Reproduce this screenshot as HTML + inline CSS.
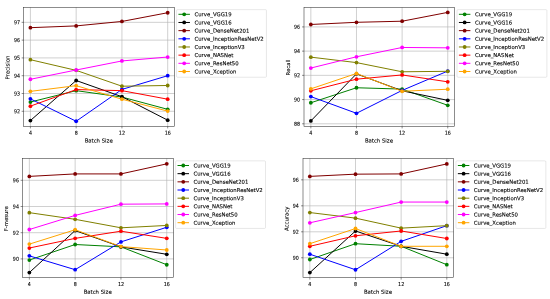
<!DOCTYPE html>
<html><head><meta charset="utf-8"><title>Curves</title>
<style>
html,body{margin:0;padding:0;background:#fff;}
body{width:550px;height:299px;overflow:hidden;}
svg{display:block;}
text{font-family:"DejaVu Sans","Liberation Sans",sans-serif;font-size:5.35px;fill:#000;stroke:#000;stroke-width:0.1px;}
.tk{fill:#000}
</style></head><body>
<svg width="550" height="299" viewBox="0 0 550 299">
<g>
<rect x="0" y="0" width="550" height="299" fill="#ffffff"/>

<g>
<line x1="30.40" y1="7.30" x2="30.40" y2="126.50" stroke="#b0b0b0" stroke-width="0.6"/>
<line x1="76.17" y1="7.30" x2="76.17" y2="126.50" stroke="#b0b0b0" stroke-width="0.6"/>
<line x1="121.93" y1="7.30" x2="121.93" y2="126.50" stroke="#b0b0b0" stroke-width="0.6"/>
<line x1="167.70" y1="7.30" x2="167.70" y2="126.50" stroke="#b0b0b0" stroke-width="0.6"/>
<line x1="23.55" y1="111.29" x2="174.55" y2="111.29" stroke="#b0b0b0" stroke-width="0.6"/>
<line x1="23.55" y1="93.50" x2="174.55" y2="93.50" stroke="#b0b0b0" stroke-width="0.6"/>
<line x1="23.55" y1="75.71" x2="174.55" y2="75.71" stroke="#b0b0b0" stroke-width="0.6"/>
<line x1="23.55" y1="57.92" x2="174.55" y2="57.92" stroke="#b0b0b0" stroke-width="0.6"/>
<line x1="23.55" y1="40.13" x2="174.55" y2="40.13" stroke="#b0b0b0" stroke-width="0.6"/>
<line x1="23.55" y1="22.34" x2="174.55" y2="22.34" stroke="#b0b0b0" stroke-width="0.6"/>
<polyline points="30.40,102.04 76.17,90.65 121.93,97.06 167.70,109.33" fill="none" stroke="#008000" stroke-width="1.0" stroke-linejoin="round"/>
<circle cx="30.40" cy="102.04" r="1.9" fill="#008000"/>
<circle cx="76.17" cy="90.65" r="1.9" fill="#008000"/>
<circle cx="121.93" cy="97.06" r="1.9" fill="#008000"/>
<circle cx="167.70" cy="109.33" r="1.9" fill="#008000"/>
<polyline points="30.40,120.54 76.17,80.51 121.93,96.70 167.70,120.19" fill="none" stroke="#000000" stroke-width="1.0" stroke-linejoin="round"/>
<circle cx="30.40" cy="120.54" r="1.9" fill="#000000"/>
<circle cx="76.17" cy="80.51" r="1.9" fill="#000000"/>
<circle cx="121.93" cy="96.70" r="1.9" fill="#000000"/>
<circle cx="167.70" cy="120.19" r="1.9" fill="#000000"/>
<polyline points="30.40,27.68 76.17,25.90 121.93,21.45 167.70,12.73" fill="none" stroke="#800000" stroke-width="1.0" stroke-linejoin="round"/>
<circle cx="30.40" cy="27.68" r="1.9" fill="#800000"/>
<circle cx="76.17" cy="25.90" r="1.9" fill="#800000"/>
<circle cx="121.93" cy="21.45" r="1.9" fill="#800000"/>
<circle cx="167.70" cy="12.73" r="1.9" fill="#800000"/>
<polyline points="30.40,98.84 76.17,121.25 121.93,89.41 167.70,75.71" fill="none" stroke="#0000ff" stroke-width="1.0" stroke-linejoin="round"/>
<circle cx="30.40" cy="98.84" r="1.9" fill="#0000ff"/>
<circle cx="76.17" cy="121.25" r="1.9" fill="#0000ff"/>
<circle cx="121.93" cy="89.41" r="1.9" fill="#0000ff"/>
<circle cx="167.70" cy="75.71" r="1.9" fill="#0000ff"/>
<polyline points="30.40,59.70 76.17,70.37 121.93,86.21 167.70,85.49" fill="none" stroke="#808000" stroke-width="1.0" stroke-linejoin="round"/>
<circle cx="30.40" cy="59.70" r="1.9" fill="#808000"/>
<circle cx="76.17" cy="70.37" r="1.9" fill="#808000"/>
<circle cx="121.93" cy="86.21" r="1.9" fill="#808000"/>
<circle cx="167.70" cy="85.49" r="1.9" fill="#808000"/>
<polyline points="30.40,106.13 76.17,89.59 121.93,90.65 167.70,99.19" fill="none" stroke="#ff0000" stroke-width="1.0" stroke-linejoin="round"/>
<circle cx="30.40" cy="106.13" r="1.9" fill="#ff0000"/>
<circle cx="76.17" cy="89.59" r="1.9" fill="#ff0000"/>
<circle cx="121.93" cy="90.65" r="1.9" fill="#ff0000"/>
<circle cx="167.70" cy="99.19" r="1.9" fill="#ff0000"/>
<polyline points="30.40,79.27 76.17,70.02 121.93,60.94 167.70,57.03" fill="none" stroke="#ff00ff" stroke-width="1.0" stroke-linejoin="round"/>
<circle cx="30.40" cy="79.27" r="1.9" fill="#ff00ff"/>
<circle cx="76.17" cy="70.02" r="1.9" fill="#ff00ff"/>
<circle cx="121.93" cy="60.94" r="1.9" fill="#ff00ff"/>
<circle cx="167.70" cy="57.03" r="1.9" fill="#ff00ff"/>
<polyline points="30.40,91.37 76.17,85.67 121.93,99.19 167.70,111.11" fill="none" stroke="#ffa500" stroke-width="1.0" stroke-linejoin="round"/>
<circle cx="30.40" cy="91.37" r="1.9" fill="#ffa500"/>
<circle cx="76.17" cy="85.67" r="1.9" fill="#ffa500"/>
<circle cx="121.93" cy="99.19" r="1.9" fill="#ffa500"/>
<circle cx="167.70" cy="111.11" r="1.9" fill="#ffa500"/>
<rect x="23.55" y="7.30" width="151.00" height="119.20" fill="none" stroke="#303030" stroke-width="0.55"/>
<line x1="30.40" y1="126.50" x2="30.40" y2="128.40" stroke="#000" stroke-width="0.45"/>
<text class="tk" transform="translate(30.40,134.85) rotate(0.05) scale(0.9,1)" text-anchor="middle">4</text>
<line x1="76.17" y1="126.50" x2="76.17" y2="128.40" stroke="#000" stroke-width="0.45"/>
<text class="tk" transform="translate(76.17,134.85) rotate(0.05) scale(0.9,1)" text-anchor="middle">8</text>
<line x1="121.93" y1="126.50" x2="121.93" y2="128.40" stroke="#000" stroke-width="0.45"/>
<text class="tk" transform="translate(121.93,134.85) rotate(0.05) scale(0.9,1)" text-anchor="middle">12</text>
<line x1="167.70" y1="126.50" x2="167.70" y2="128.40" stroke="#000" stroke-width="0.45"/>
<text class="tk" transform="translate(167.70,134.85) rotate(0.05) scale(0.9,1)" text-anchor="middle">16</text>
<line x1="21.65" y1="111.29" x2="23.55" y2="111.29" stroke="#000" stroke-width="0.45"/>
<text class="tk" transform="translate(20.05,113.24) rotate(0.05) scale(0.9,1)" text-anchor="end">92</text>
<line x1="21.65" y1="93.50" x2="23.55" y2="93.50" stroke="#000" stroke-width="0.45"/>
<text class="tk" transform="translate(20.05,95.45) rotate(0.05) scale(0.9,1)" text-anchor="end">93</text>
<line x1="21.65" y1="75.71" x2="23.55" y2="75.71" stroke="#000" stroke-width="0.45"/>
<text class="tk" transform="translate(20.05,77.66) rotate(0.05) scale(0.9,1)" text-anchor="end">94</text>
<line x1="21.65" y1="57.92" x2="23.55" y2="57.92" stroke="#000" stroke-width="0.45"/>
<text class="tk" transform="translate(20.05,59.87) rotate(0.05) scale(0.9,1)" text-anchor="end">95</text>
<line x1="21.65" y1="40.13" x2="23.55" y2="40.13" stroke="#000" stroke-width="0.45"/>
<text class="tk" transform="translate(20.05,42.08) rotate(0.05) scale(0.9,1)" text-anchor="end">96</text>
<line x1="21.65" y1="22.34" x2="23.55" y2="22.34" stroke="#000" stroke-width="0.45"/>
<text class="tk" transform="translate(20.05,24.29) rotate(0.05) scale(0.9,1)" text-anchor="end">97</text>
<text transform="translate(98.65,142.50) rotate(0.05)" text-anchor="middle">Batch Size</text>
<text transform="translate(9.45,67.60) rotate(-89.9)" text-anchor="middle">Precision</text>
<rect x="176.55" y="9.65" width="89.90" height="67.60" rx="1" ry="1" fill="#fff" fill-opacity="0.8" stroke="#cccccc" stroke-width="0.45"/>
<line x1="178.45" y1="14.30" x2="189.95" y2="14.30" stroke="#008000" stroke-width="1.0"/>
<circle cx="184.20" cy="14.30" r="1.9" fill="#008000"/>
<text transform="translate(194.45,16.25) rotate(0.05)">Curve_VGG19</text>
<line x1="178.45" y1="22.47" x2="189.95" y2="22.47" stroke="#000000" stroke-width="1.0"/>
<circle cx="184.20" cy="22.47" r="1.9" fill="#000000"/>
<text transform="translate(194.45,24.42) rotate(0.05)">Curve_VGG16</text>
<line x1="178.45" y1="30.64" x2="189.95" y2="30.64" stroke="#800000" stroke-width="1.0"/>
<circle cx="184.20" cy="30.64" r="1.9" fill="#800000"/>
<text transform="translate(194.45,32.59) rotate(0.05)">Curve_DenseNet201</text>
<line x1="178.45" y1="38.81" x2="189.95" y2="38.81" stroke="#0000ff" stroke-width="1.0"/>
<circle cx="184.20" cy="38.81" r="1.9" fill="#0000ff"/>
<text transform="translate(194.45,40.76) rotate(0.05)">Curve_InceptionResNetV2</text>
<line x1="178.45" y1="46.98" x2="189.95" y2="46.98" stroke="#808000" stroke-width="1.0"/>
<circle cx="184.20" cy="46.98" r="1.9" fill="#808000"/>
<text transform="translate(194.45,48.93) rotate(0.05)">Curve_InceptionV3</text>
<line x1="178.45" y1="55.15" x2="189.95" y2="55.15" stroke="#ff0000" stroke-width="1.0"/>
<circle cx="184.20" cy="55.15" r="1.9" fill="#ff0000"/>
<text transform="translate(194.45,57.10) rotate(0.05)">Curve_NASNet</text>
<line x1="178.45" y1="63.32" x2="189.95" y2="63.32" stroke="#ff00ff" stroke-width="1.0"/>
<circle cx="184.20" cy="63.32" r="1.9" fill="#ff00ff"/>
<text transform="translate(194.45,65.27) rotate(0.05)">Curve_ResNet50</text>
<line x1="178.45" y1="71.49" x2="189.95" y2="71.49" stroke="#ffa500" stroke-width="1.0"/>
<circle cx="184.20" cy="71.49" r="1.9" fill="#ffa500"/>
<text transform="translate(194.45,73.44) rotate(0.05)">Curve_Xception</text>
</g>
<g>
<line x1="310.85" y1="7.30" x2="310.85" y2="126.50" stroke="#b0b0b0" stroke-width="0.6"/>
<line x1="356.48" y1="7.30" x2="356.48" y2="126.50" stroke="#b0b0b0" stroke-width="0.6"/>
<line x1="402.12" y1="7.30" x2="402.12" y2="126.50" stroke="#b0b0b0" stroke-width="0.6"/>
<line x1="447.75" y1="7.30" x2="447.75" y2="126.50" stroke="#b0b0b0" stroke-width="0.6"/>
<line x1="304.00" y1="123.79" x2="454.60" y2="123.79" stroke="#b0b0b0" stroke-width="0.6"/>
<line x1="304.00" y1="99.57" x2="454.60" y2="99.57" stroke="#b0b0b0" stroke-width="0.6"/>
<line x1="304.00" y1="75.35" x2="454.60" y2="75.35" stroke="#b0b0b0" stroke-width="0.6"/>
<line x1="304.00" y1="51.13" x2="454.60" y2="51.13" stroke="#b0b0b0" stroke-width="0.6"/>
<line x1="304.00" y1="26.91" x2="454.60" y2="26.91" stroke="#b0b0b0" stroke-width="0.6"/>
<polyline points="310.85,102.77 356.48,87.76 402.12,89.09 447.75,105.31" fill="none" stroke="#008000" stroke-width="1.0" stroke-linejoin="round"/>
<circle cx="310.85" cy="102.77" r="1.9" fill="#008000"/>
<circle cx="356.48" cy="87.76" r="1.9" fill="#008000"/>
<circle cx="402.12" cy="89.09" r="1.9" fill="#008000"/>
<circle cx="447.75" cy="105.31" r="1.9" fill="#008000"/>
<polyline points="310.85,120.92 356.48,73.85 402.12,90.79 447.75,100.35" fill="none" stroke="#000000" stroke-width="1.0" stroke-linejoin="round"/>
<circle cx="310.85" cy="120.92" r="1.9" fill="#000000"/>
<circle cx="356.48" cy="73.85" r="1.9" fill="#000000"/>
<circle cx="402.12" cy="90.79" r="1.9" fill="#000000"/>
<circle cx="447.75" cy="100.35" r="1.9" fill="#000000"/>
<polyline points="310.85,24.48 356.48,22.30 402.12,21.21 447.75,12.38" fill="none" stroke="#800000" stroke-width="1.0" stroke-linejoin="round"/>
<circle cx="310.85" cy="24.48" r="1.9" fill="#800000"/>
<circle cx="356.48" cy="22.30" r="1.9" fill="#800000"/>
<circle cx="402.12" cy="21.21" r="1.9" fill="#800000"/>
<circle cx="447.75" cy="12.38" r="1.9" fill="#800000"/>
<polyline points="310.85,96.60 356.48,113.29 402.12,90.42 447.75,71.07" fill="none" stroke="#0000ff" stroke-width="1.0" stroke-linejoin="round"/>
<circle cx="310.85" cy="96.60" r="1.9" fill="#0000ff"/>
<circle cx="356.48" cy="113.29" r="1.9" fill="#0000ff"/>
<circle cx="402.12" cy="90.42" r="1.9" fill="#0000ff"/>
<circle cx="447.75" cy="71.07" r="1.9" fill="#0000ff"/>
<polyline points="310.85,57.15 356.48,62.60 402.12,71.79 447.75,71.31" fill="none" stroke="#808000" stroke-width="1.0" stroke-linejoin="round"/>
<circle cx="310.85" cy="57.15" r="1.9" fill="#808000"/>
<circle cx="356.48" cy="62.60" r="1.9" fill="#808000"/>
<circle cx="402.12" cy="71.79" r="1.9" fill="#808000"/>
<circle cx="447.75" cy="71.31" r="1.9" fill="#808000"/>
<polyline points="310.85,90.79 356.48,79.17 402.12,74.94 447.75,81.83" fill="none" stroke="#ff0000" stroke-width="1.0" stroke-linejoin="round"/>
<circle cx="310.85" cy="90.79" r="1.9" fill="#ff0000"/>
<circle cx="356.48" cy="79.17" r="1.9" fill="#ff0000"/>
<circle cx="402.12" cy="74.94" r="1.9" fill="#ff0000"/>
<circle cx="447.75" cy="81.83" r="1.9" fill="#ff0000"/>
<polyline points="310.85,68.04 356.48,56.79 402.12,47.47 447.75,47.83" fill="none" stroke="#ff00ff" stroke-width="1.0" stroke-linejoin="round"/>
<circle cx="310.85" cy="68.04" r="1.9" fill="#ff00ff"/>
<circle cx="356.48" cy="56.79" r="1.9" fill="#ff00ff"/>
<circle cx="402.12" cy="47.47" r="1.9" fill="#ff00ff"/>
<circle cx="447.75" cy="47.83" r="1.9" fill="#ff00ff"/>
<polyline points="310.85,88.85 356.48,73.48 402.12,91.27 447.75,89.22" fill="none" stroke="#ffa500" stroke-width="1.0" stroke-linejoin="round"/>
<circle cx="310.85" cy="88.85" r="1.9" fill="#ffa500"/>
<circle cx="356.48" cy="73.48" r="1.9" fill="#ffa500"/>
<circle cx="402.12" cy="91.27" r="1.9" fill="#ffa500"/>
<circle cx="447.75" cy="89.22" r="1.9" fill="#ffa500"/>
<rect x="304.00" y="7.30" width="150.60" height="119.20" fill="none" stroke="#303030" stroke-width="0.55"/>
<line x1="310.85" y1="126.50" x2="310.85" y2="128.40" stroke="#000" stroke-width="0.45"/>
<text class="tk" transform="translate(310.85,134.85) rotate(0.05) scale(0.9,1)" text-anchor="middle">4</text>
<line x1="356.48" y1="126.50" x2="356.48" y2="128.40" stroke="#000" stroke-width="0.45"/>
<text class="tk" transform="translate(356.48,134.85) rotate(0.05) scale(0.9,1)" text-anchor="middle">8</text>
<line x1="402.12" y1="126.50" x2="402.12" y2="128.40" stroke="#000" stroke-width="0.45"/>
<text class="tk" transform="translate(402.12,134.85) rotate(0.05) scale(0.9,1)" text-anchor="middle">12</text>
<line x1="447.75" y1="126.50" x2="447.75" y2="128.40" stroke="#000" stroke-width="0.45"/>
<text class="tk" transform="translate(447.75,134.85) rotate(0.05) scale(0.9,1)" text-anchor="middle">16</text>
<line x1="302.10" y1="123.79" x2="304.00" y2="123.79" stroke="#000" stroke-width="0.45"/>
<text class="tk" transform="translate(300.05,125.74) rotate(0.05) scale(0.9,1)" text-anchor="end">88</text>
<line x1="302.10" y1="99.57" x2="304.00" y2="99.57" stroke="#000" stroke-width="0.45"/>
<text class="tk" transform="translate(300.05,101.52) rotate(0.05) scale(0.9,1)" text-anchor="end">90</text>
<line x1="302.10" y1="75.35" x2="304.00" y2="75.35" stroke="#000" stroke-width="0.45"/>
<text class="tk" transform="translate(300.05,77.30) rotate(0.05) scale(0.9,1)" text-anchor="end">92</text>
<line x1="302.10" y1="51.13" x2="304.00" y2="51.13" stroke="#000" stroke-width="0.45"/>
<text class="tk" transform="translate(300.05,53.08) rotate(0.05) scale(0.9,1)" text-anchor="end">94</text>
<line x1="302.10" y1="26.91" x2="304.00" y2="26.91" stroke="#000" stroke-width="0.45"/>
<text class="tk" transform="translate(300.05,28.86) rotate(0.05) scale(0.9,1)" text-anchor="end">96</text>
<text transform="translate(378.90,142.50) rotate(0.05)" text-anchor="middle">Batch Size</text>
<text transform="translate(289.90,67.60) rotate(-89.9)" text-anchor="middle">Recall</text>
<rect x="457.00" y="9.65" width="89.90" height="67.60" rx="1" ry="1" fill="#fff" fill-opacity="0.8" stroke="#cccccc" stroke-width="0.45"/>
<line x1="458.90" y1="14.30" x2="470.40" y2="14.30" stroke="#008000" stroke-width="1.0"/>
<circle cx="464.65" cy="14.30" r="1.9" fill="#008000"/>
<text transform="translate(474.90,16.25) rotate(0.05)">Curve_VGG19</text>
<line x1="458.90" y1="22.47" x2="470.40" y2="22.47" stroke="#000000" stroke-width="1.0"/>
<circle cx="464.65" cy="22.47" r="1.9" fill="#000000"/>
<text transform="translate(474.90,24.42) rotate(0.05)">Curve_VGG16</text>
<line x1="458.90" y1="30.64" x2="470.40" y2="30.64" stroke="#800000" stroke-width="1.0"/>
<circle cx="464.65" cy="30.64" r="1.9" fill="#800000"/>
<text transform="translate(474.90,32.59) rotate(0.05)">Curve_DenseNet201</text>
<line x1="458.90" y1="38.81" x2="470.40" y2="38.81" stroke="#0000ff" stroke-width="1.0"/>
<circle cx="464.65" cy="38.81" r="1.9" fill="#0000ff"/>
<text transform="translate(474.90,40.76) rotate(0.05)">Curve_InceptionResNetV2</text>
<line x1="458.90" y1="46.98" x2="470.40" y2="46.98" stroke="#808000" stroke-width="1.0"/>
<circle cx="464.65" cy="46.98" r="1.9" fill="#808000"/>
<text transform="translate(474.90,48.93) rotate(0.05)">Curve_InceptionV3</text>
<line x1="458.90" y1="55.15" x2="470.40" y2="55.15" stroke="#ff0000" stroke-width="1.0"/>
<circle cx="464.65" cy="55.15" r="1.9" fill="#ff0000"/>
<text transform="translate(474.90,57.10) rotate(0.05)">Curve_NASNet</text>
<line x1="458.90" y1="63.32" x2="470.40" y2="63.32" stroke="#ff00ff" stroke-width="1.0"/>
<circle cx="464.65" cy="63.32" r="1.9" fill="#ff00ff"/>
<text transform="translate(474.90,65.27) rotate(0.05)">Curve_ResNet50</text>
<line x1="458.90" y1="71.49" x2="470.40" y2="71.49" stroke="#ffa500" stroke-width="1.0"/>
<circle cx="464.65" cy="71.49" r="1.9" fill="#ffa500"/>
<text transform="translate(474.90,73.44) rotate(0.05)">Curve_Xception</text>
</g>
<g>
<line x1="29.35" y1="158.50" x2="29.35" y2="277.70" stroke="#b0b0b0" stroke-width="0.6"/>
<line x1="75.15" y1="158.50" x2="75.15" y2="277.70" stroke="#b0b0b0" stroke-width="0.6"/>
<line x1="120.95" y1="158.50" x2="120.95" y2="277.70" stroke="#b0b0b0" stroke-width="0.6"/>
<line x1="166.75" y1="158.50" x2="166.75" y2="277.70" stroke="#b0b0b0" stroke-width="0.6"/>
<line x1="22.50" y1="258.90" x2="173.60" y2="258.90" stroke="#b0b0b0" stroke-width="0.6"/>
<line x1="22.50" y1="232.70" x2="173.60" y2="232.70" stroke="#b0b0b0" stroke-width="0.6"/>
<line x1="22.50" y1="206.50" x2="173.60" y2="206.50" stroke="#b0b0b0" stroke-width="0.6"/>
<line x1="22.50" y1="180.30" x2="173.60" y2="180.30" stroke="#b0b0b0" stroke-width="0.6"/>
<polyline points="29.35,260.04 75.15,244.51 120.95,246.85 166.75,264.73" fill="none" stroke="#008000" stroke-width="1.0" stroke-linejoin="round"/>
<circle cx="29.35" cy="260.04" r="1.9" fill="#008000"/>
<circle cx="75.15" cy="244.51" r="1.9" fill="#008000"/>
<circle cx="120.95" cy="246.85" r="1.9" fill="#008000"/>
<circle cx="166.75" cy="264.73" r="1.9" fill="#008000"/>
<polyline points="29.35,272.56 75.15,230.54 120.95,246.85 166.75,254.29" fill="none" stroke="#000000" stroke-width="1.0" stroke-linejoin="round"/>
<circle cx="29.35" cy="272.56" r="1.9" fill="#000000"/>
<circle cx="75.15" cy="230.54" r="1.9" fill="#000000"/>
<circle cx="120.95" cy="246.85" r="1.9" fill="#000000"/>
<circle cx="166.75" cy="254.29" r="1.9" fill="#000000"/>
<polyline points="29.35,176.39 75.15,173.91 120.95,173.91 166.75,163.86" fill="none" stroke="#800000" stroke-width="1.0" stroke-linejoin="round"/>
<circle cx="29.35" cy="176.39" r="1.9" fill="#800000"/>
<circle cx="75.15" cy="173.91" r="1.9" fill="#800000"/>
<circle cx="120.95" cy="173.91" r="1.9" fill="#800000"/>
<circle cx="166.75" cy="163.86" r="1.9" fill="#800000"/>
<polyline points="29.35,255.86 75.15,269.69 120.95,241.90 166.75,227.28" fill="none" stroke="#0000ff" stroke-width="1.0" stroke-linejoin="round"/>
<circle cx="29.35" cy="255.86" r="1.9" fill="#0000ff"/>
<circle cx="75.15" cy="269.69" r="1.9" fill="#0000ff"/>
<circle cx="120.95" cy="241.90" r="1.9" fill="#0000ff"/>
<circle cx="166.75" cy="227.28" r="1.9" fill="#0000ff"/>
<polyline points="29.35,212.66 75.15,219.32 120.95,227.80 166.75,225.45" fill="none" stroke="#808000" stroke-width="1.0" stroke-linejoin="round"/>
<circle cx="29.35" cy="212.66" r="1.9" fill="#808000"/>
<circle cx="75.15" cy="219.32" r="1.9" fill="#808000"/>
<circle cx="120.95" cy="227.80" r="1.9" fill="#808000"/>
<circle cx="166.75" cy="225.45" r="1.9" fill="#808000"/>
<polyline points="29.35,248.03 75.15,238.37 120.95,231.20 166.75,238.37" fill="none" stroke="#ff0000" stroke-width="1.0" stroke-linejoin="round"/>
<circle cx="29.35" cy="248.03" r="1.9" fill="#ff0000"/>
<circle cx="75.15" cy="238.37" r="1.9" fill="#ff0000"/>
<circle cx="120.95" cy="231.20" r="1.9" fill="#ff0000"/>
<circle cx="166.75" cy="238.37" r="1.9" fill="#ff0000"/>
<polyline points="29.35,229.50 75.15,215.40 120.95,204.18 166.75,203.92" fill="none" stroke="#ff00ff" stroke-width="1.0" stroke-linejoin="round"/>
<circle cx="29.35" cy="229.50" r="1.9" fill="#ff00ff"/>
<circle cx="75.15" cy="215.40" r="1.9" fill="#ff00ff"/>
<circle cx="120.95" cy="204.18" r="1.9" fill="#ff00ff"/>
<circle cx="166.75" cy="203.92" r="1.9" fill="#ff00ff"/>
<polyline points="29.35,244.11 75.15,229.76 120.95,246.59 166.75,249.99" fill="none" stroke="#ffa500" stroke-width="1.0" stroke-linejoin="round"/>
<circle cx="29.35" cy="244.11" r="1.9" fill="#ffa500"/>
<circle cx="75.15" cy="229.76" r="1.9" fill="#ffa500"/>
<circle cx="120.95" cy="246.59" r="1.9" fill="#ffa500"/>
<circle cx="166.75" cy="249.99" r="1.9" fill="#ffa500"/>
<rect x="22.50" y="158.50" width="151.10" height="119.20" fill="none" stroke="#303030" stroke-width="0.55"/>
<line x1="29.35" y1="277.70" x2="29.35" y2="279.60" stroke="#000" stroke-width="0.45"/>
<text class="tk" transform="translate(29.35,286.05) rotate(0.05) scale(0.9,1)" text-anchor="middle">4</text>
<line x1="75.15" y1="277.70" x2="75.15" y2="279.60" stroke="#000" stroke-width="0.45"/>
<text class="tk" transform="translate(75.15,286.05) rotate(0.05) scale(0.9,1)" text-anchor="middle">8</text>
<line x1="120.95" y1="277.70" x2="120.95" y2="279.60" stroke="#000" stroke-width="0.45"/>
<text class="tk" transform="translate(120.95,286.05) rotate(0.05) scale(0.9,1)" text-anchor="middle">12</text>
<line x1="166.75" y1="277.70" x2="166.75" y2="279.60" stroke="#000" stroke-width="0.45"/>
<text class="tk" transform="translate(166.75,286.05) rotate(0.05) scale(0.9,1)" text-anchor="middle">16</text>
<line x1="20.60" y1="258.90" x2="22.50" y2="258.90" stroke="#000" stroke-width="0.45"/>
<text class="tk" transform="translate(18.95,260.85) rotate(0.05) scale(0.9,1)" text-anchor="end">90</text>
<line x1="20.60" y1="232.70" x2="22.50" y2="232.70" stroke="#000" stroke-width="0.45"/>
<text class="tk" transform="translate(18.95,234.65) rotate(0.05) scale(0.9,1)" text-anchor="end">92</text>
<line x1="20.60" y1="206.50" x2="22.50" y2="206.50" stroke="#000" stroke-width="0.45"/>
<text class="tk" transform="translate(18.95,208.45) rotate(0.05) scale(0.9,1)" text-anchor="end">94</text>
<line x1="20.60" y1="180.30" x2="22.50" y2="180.30" stroke="#000" stroke-width="0.45"/>
<text class="tk" transform="translate(18.95,182.25) rotate(0.05) scale(0.9,1)" text-anchor="end">96</text>
<text transform="translate(97.65,293.70) rotate(0.05)" text-anchor="middle">Batch Size</text>
<text transform="translate(8.10,218.80) rotate(-89.9)" text-anchor="middle">F-mesure</text>
<rect x="175.60" y="160.85" width="89.90" height="67.60" rx="1" ry="1" fill="#fff" fill-opacity="0.8" stroke="#cccccc" stroke-width="0.45"/>
<line x1="177.50" y1="165.50" x2="189.00" y2="165.50" stroke="#008000" stroke-width="1.0"/>
<circle cx="183.25" cy="165.50" r="1.9" fill="#008000"/>
<text transform="translate(193.50,167.45) rotate(0.05)">Curve_VGG19</text>
<line x1="177.50" y1="173.67" x2="189.00" y2="173.67" stroke="#000000" stroke-width="1.0"/>
<circle cx="183.25" cy="173.67" r="1.9" fill="#000000"/>
<text transform="translate(193.50,175.62) rotate(0.05)">Curve_VGG16</text>
<line x1="177.50" y1="181.84" x2="189.00" y2="181.84" stroke="#800000" stroke-width="1.0"/>
<circle cx="183.25" cy="181.84" r="1.9" fill="#800000"/>
<text transform="translate(193.50,183.79) rotate(0.05)">Curve_DenseNet201</text>
<line x1="177.50" y1="190.01" x2="189.00" y2="190.01" stroke="#0000ff" stroke-width="1.0"/>
<circle cx="183.25" cy="190.01" r="1.9" fill="#0000ff"/>
<text transform="translate(193.50,191.96) rotate(0.05)">Curve_InceptionResNetV2</text>
<line x1="177.50" y1="198.18" x2="189.00" y2="198.18" stroke="#808000" stroke-width="1.0"/>
<circle cx="183.25" cy="198.18" r="1.9" fill="#808000"/>
<text transform="translate(193.50,200.13) rotate(0.05)">Curve_InceptionV3</text>
<line x1="177.50" y1="206.35" x2="189.00" y2="206.35" stroke="#ff0000" stroke-width="1.0"/>
<circle cx="183.25" cy="206.35" r="1.9" fill="#ff0000"/>
<text transform="translate(193.50,208.30) rotate(0.05)">Curve_NASNet</text>
<line x1="177.50" y1="214.52" x2="189.00" y2="214.52" stroke="#ff00ff" stroke-width="1.0"/>
<circle cx="183.25" cy="214.52" r="1.9" fill="#ff00ff"/>
<text transform="translate(193.50,216.47) rotate(0.05)">Curve_ResNet50</text>
<line x1="177.50" y1="222.69" x2="189.00" y2="222.69" stroke="#ffa500" stroke-width="1.0"/>
<circle cx="183.25" cy="222.69" r="1.9" fill="#ffa500"/>
<text transform="translate(193.50,224.64) rotate(0.05)">Curve_Xception</text>
</g>
<g>
<line x1="309.85" y1="158.50" x2="309.85" y2="277.70" stroke="#b0b0b0" stroke-width="0.6"/>
<line x1="355.50" y1="158.50" x2="355.50" y2="277.70" stroke="#b0b0b0" stroke-width="0.6"/>
<line x1="401.15" y1="158.50" x2="401.15" y2="277.70" stroke="#b0b0b0" stroke-width="0.6"/>
<line x1="446.80" y1="158.50" x2="446.80" y2="277.70" stroke="#b0b0b0" stroke-width="0.6"/>
<line x1="303.00" y1="257.78" x2="453.65" y2="257.78" stroke="#b0b0b0" stroke-width="0.6"/>
<line x1="303.00" y1="231.80" x2="453.65" y2="231.80" stroke="#b0b0b0" stroke-width="0.6"/>
<line x1="303.00" y1="205.82" x2="453.65" y2="205.82" stroke="#b0b0b0" stroke-width="0.6"/>
<line x1="303.00" y1="179.84" x2="453.65" y2="179.84" stroke="#b0b0b0" stroke-width="0.6"/>
<polyline points="309.85,259.52 355.50,243.69 401.15,246.29 446.80,264.70" fill="none" stroke="#008000" stroke-width="1.0" stroke-linejoin="round"/>
<circle cx="309.85" cy="259.52" r="1.9" fill="#008000"/>
<circle cx="355.50" cy="243.69" r="1.9" fill="#008000"/>
<circle cx="401.15" cy="246.29" r="1.9" fill="#008000"/>
<circle cx="446.80" cy="264.70" r="1.9" fill="#008000"/>
<polyline points="309.85,272.61 355.50,230.98 401.15,246.29 446.80,254.20" fill="none" stroke="#000000" stroke-width="1.0" stroke-linejoin="round"/>
<circle cx="309.85" cy="272.61" r="1.9" fill="#000000"/>
<circle cx="355.50" cy="230.98" r="1.9" fill="#000000"/>
<circle cx="401.15" cy="246.29" r="1.9" fill="#000000"/>
<circle cx="446.80" cy="254.20" r="1.9" fill="#000000"/>
<polyline points="309.85,176.38 355.50,174.17 401.15,173.91 446.80,163.93" fill="none" stroke="#800000" stroke-width="1.0" stroke-linejoin="round"/>
<circle cx="309.85" cy="176.38" r="1.9" fill="#800000"/>
<circle cx="355.50" cy="174.17" r="1.9" fill="#800000"/>
<circle cx="401.15" cy="173.91" r="1.9" fill="#800000"/>
<circle cx="446.80" cy="163.93" r="1.9" fill="#800000"/>
<polyline points="309.85,254.20 355.50,269.76 401.15,241.36 446.80,225.66" fill="none" stroke="#0000ff" stroke-width="1.0" stroke-linejoin="round"/>
<circle cx="309.85" cy="254.20" r="1.9" fill="#0000ff"/>
<circle cx="355.50" cy="269.76" r="1.9" fill="#0000ff"/>
<circle cx="401.15" cy="241.36" r="1.9" fill="#0000ff"/>
<circle cx="446.80" cy="225.66" r="1.9" fill="#0000ff"/>
<polyline points="309.85,212.56 355.50,218.14 401.15,228.13 446.80,225.66" fill="none" stroke="#808000" stroke-width="1.0" stroke-linejoin="round"/>
<circle cx="309.85" cy="212.56" r="1.9" fill="#808000"/>
<circle cx="355.50" cy="218.14" r="1.9" fill="#808000"/>
<circle cx="401.15" cy="228.13" r="1.9" fill="#808000"/>
<circle cx="446.80" cy="225.66" r="1.9" fill="#808000"/>
<polyline points="309.85,246.29 355.50,235.78 401.15,230.98 446.80,238.50" fill="none" stroke="#ff0000" stroke-width="1.0" stroke-linejoin="round"/>
<circle cx="309.85" cy="246.29" r="1.9" fill="#ff0000"/>
<circle cx="355.50" cy="235.78" r="1.9" fill="#ff0000"/>
<circle cx="401.15" cy="230.98" r="1.9" fill="#ff0000"/>
<circle cx="446.80" cy="238.50" r="1.9" fill="#ff0000"/>
<polyline points="309.85,222.81 355.50,212.56 401.15,202.06 446.80,202.06" fill="none" stroke="#ff00ff" stroke-width="1.0" stroke-linejoin="round"/>
<circle cx="309.85" cy="222.81" r="1.9" fill="#ff00ff"/>
<circle cx="355.50" cy="212.56" r="1.9" fill="#ff00ff"/>
<circle cx="401.15" cy="202.06" r="1.9" fill="#ff00ff"/>
<circle cx="446.80" cy="202.06" r="1.9" fill="#ff00ff"/>
<polyline points="309.85,243.69 355.50,228.52 401.15,246.29 446.80,246.29" fill="none" stroke="#ffa500" stroke-width="1.0" stroke-linejoin="round"/>
<circle cx="309.85" cy="243.69" r="1.9" fill="#ffa500"/>
<circle cx="355.50" cy="228.52" r="1.9" fill="#ffa500"/>
<circle cx="401.15" cy="246.29" r="1.9" fill="#ffa500"/>
<circle cx="446.80" cy="246.29" r="1.9" fill="#ffa500"/>
<rect x="303.00" y="158.50" width="150.65" height="119.20" fill="none" stroke="#303030" stroke-width="0.55"/>
<line x1="309.85" y1="277.70" x2="309.85" y2="279.60" stroke="#000" stroke-width="0.45"/>
<text class="tk" transform="translate(309.85,286.05) rotate(0.05) scale(0.9,1)" text-anchor="middle">4</text>
<line x1="355.50" y1="277.70" x2="355.50" y2="279.60" stroke="#000" stroke-width="0.45"/>
<text class="tk" transform="translate(355.50,286.05) rotate(0.05) scale(0.9,1)" text-anchor="middle">8</text>
<line x1="401.15" y1="277.70" x2="401.15" y2="279.60" stroke="#000" stroke-width="0.45"/>
<text class="tk" transform="translate(401.15,286.05) rotate(0.05) scale(0.9,1)" text-anchor="middle">12</text>
<line x1="446.80" y1="277.70" x2="446.80" y2="279.60" stroke="#000" stroke-width="0.45"/>
<text class="tk" transform="translate(446.80,286.05) rotate(0.05) scale(0.9,1)" text-anchor="middle">16</text>
<line x1="301.10" y1="257.78" x2="303.00" y2="257.78" stroke="#000" stroke-width="0.45"/>
<text class="tk" transform="translate(298.90,259.73) rotate(0.05) scale(0.9,1)" text-anchor="end">90</text>
<line x1="301.10" y1="231.80" x2="303.00" y2="231.80" stroke="#000" stroke-width="0.45"/>
<text class="tk" transform="translate(298.90,233.75) rotate(0.05) scale(0.9,1)" text-anchor="end">92</text>
<line x1="301.10" y1="205.82" x2="303.00" y2="205.82" stroke="#000" stroke-width="0.45"/>
<text class="tk" transform="translate(298.90,207.77) rotate(0.05) scale(0.9,1)" text-anchor="end">94</text>
<line x1="301.10" y1="179.84" x2="303.00" y2="179.84" stroke="#000" stroke-width="0.45"/>
<text class="tk" transform="translate(298.90,181.79) rotate(0.05) scale(0.9,1)" text-anchor="end">96</text>
<text transform="translate(377.93,293.70) rotate(0.05)" text-anchor="middle">Batch Size</text>
<text transform="translate(288.40,218.80) rotate(-89.9)" text-anchor="middle">Accuracy</text>
<rect x="455.95" y="160.85" width="89.90" height="67.60" rx="1" ry="1" fill="#fff" fill-opacity="0.8" stroke="#cccccc" stroke-width="0.45"/>
<line x1="457.85" y1="165.50" x2="469.35" y2="165.50" stroke="#008000" stroke-width="1.0"/>
<circle cx="463.60" cy="165.50" r="1.9" fill="#008000"/>
<text transform="translate(473.85,167.45) rotate(0.05)">Curve_VGG19</text>
<line x1="457.85" y1="173.67" x2="469.35" y2="173.67" stroke="#000000" stroke-width="1.0"/>
<circle cx="463.60" cy="173.67" r="1.9" fill="#000000"/>
<text transform="translate(473.85,175.62) rotate(0.05)">Curve_VGG16</text>
<line x1="457.85" y1="181.84" x2="469.35" y2="181.84" stroke="#800000" stroke-width="1.0"/>
<circle cx="463.60" cy="181.84" r="1.9" fill="#800000"/>
<text transform="translate(473.85,183.79) rotate(0.05)">Curve_DenseNet201</text>
<line x1="457.85" y1="190.01" x2="469.35" y2="190.01" stroke="#0000ff" stroke-width="1.0"/>
<circle cx="463.60" cy="190.01" r="1.9" fill="#0000ff"/>
<text transform="translate(473.85,191.96) rotate(0.05)">Curve_InceptionResNetV2</text>
<line x1="457.85" y1="198.18" x2="469.35" y2="198.18" stroke="#808000" stroke-width="1.0"/>
<circle cx="463.60" cy="198.18" r="1.9" fill="#808000"/>
<text transform="translate(473.85,200.13) rotate(0.05)">Curve_InceptionV3</text>
<line x1="457.85" y1="206.35" x2="469.35" y2="206.35" stroke="#ff0000" stroke-width="1.0"/>
<circle cx="463.60" cy="206.35" r="1.9" fill="#ff0000"/>
<text transform="translate(473.85,208.30) rotate(0.05)">Curve_NASNet</text>
<line x1="457.85" y1="214.52" x2="469.35" y2="214.52" stroke="#ff00ff" stroke-width="1.0"/>
<circle cx="463.60" cy="214.52" r="1.9" fill="#ff00ff"/>
<text transform="translate(473.85,216.47) rotate(0.05)">Curve_ResNet50</text>
<line x1="457.85" y1="222.69" x2="469.35" y2="222.69" stroke="#ffa500" stroke-width="1.0"/>
<circle cx="463.60" cy="222.69" r="1.9" fill="#ffa500"/>
<text transform="translate(473.85,224.64) rotate(0.05)">Curve_Xception</text>
</g>
</g></svg></body></html>
